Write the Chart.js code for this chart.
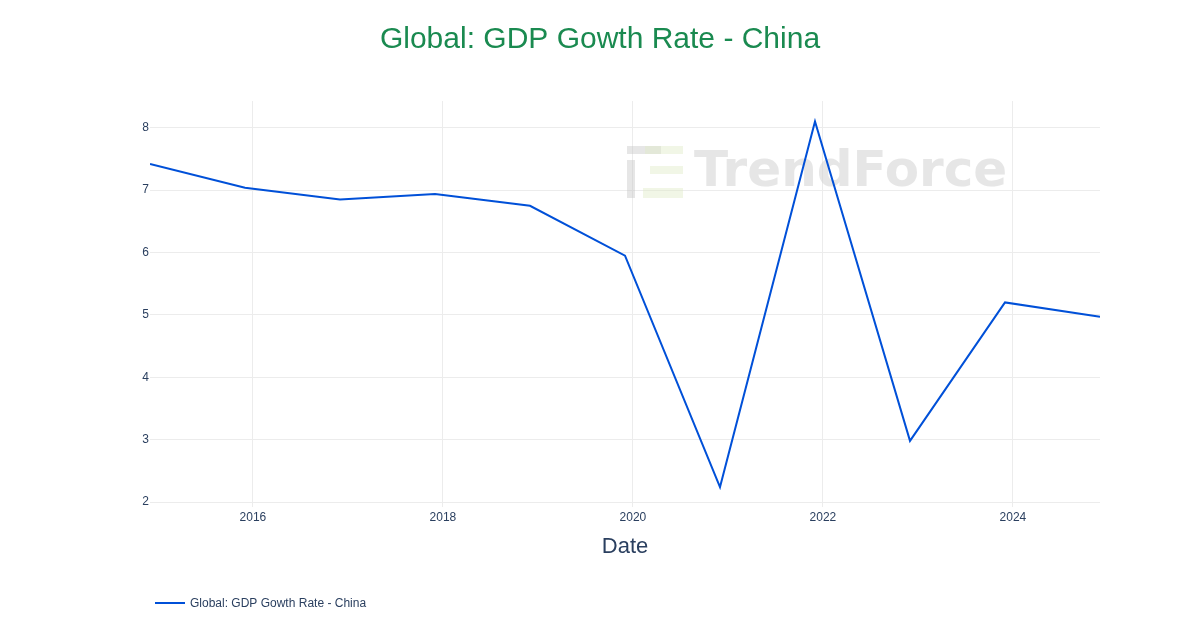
<!DOCTYPE html>
<html>
<head>
<meta charset="utf-8">
<script src="https://cdn.jsdelivr.net/npm/chart.js@4"></script>
<style>
  html, body { margin: 0; padding: 0; background: #fff; }
  #wrap { width: 1200px; height: 630px; }
</style>
</head>
<body>
<div id="wrap"><canvas id="chart" width="1200" height="630"></canvas></div>
<script>
const dates = ["2014-12-01", "2015-12-01", "2016-12-01", "2017-12-01", "2018-12-01", "2019-12-01",
  "2020-12-01", "2021-12-01", "2022-12-01", "2023-12-01", "2024-12-01"];
const growth = [7.42, 7.04, 6.85, 6.94, 6.75, 5.95, 2.24, 8.1, 2.98, 5.2, 4.97];
const xTicks = [2016, 2018, 2020, 2022, 2024];
const yTicks = [2, 3, 4, 5, 6, 7, 8];

const seriesName = "Global: GDP Gowth Rate - China";
const lineColor = "#0050d8";
const textColor = "#2a3f5f";
const fontFamily = "'Liberation Sans', Arial, sans-serif";

function toYear(d) {
  const [y, m, day] = d.split("-").map(Number);
  return y + (m - 1) / 12 + (day - 1) / 365;
}

const points = dates.map((d, i) => ({ x: toYear(d), y: growth[i] }));

// faint watermark behind the line
const watermark = {
  id: "watermark",
  beforeDatasetsDraw(chart) {
    const ctx = chart.ctx;
    ctx.save();
    ctx.fillStyle = "rgba(200,200,200,0.45)";
    ctx.fillRect(627, 146, 34, 8);
    ctx.fillRect(627, 160, 8, 38);
    ctx.fillStyle = "rgba(225,235,200,0.45)";
    ctx.fillRect(645, 146, 38, 8);
    ctx.fillRect(650, 166, 33, 8);
    ctx.fillRect(643, 188, 40, 10);
    ctx.font = "bold 50px 'DejaVu Sans', sans-serif";
    ctx.fillStyle = "rgba(205,205,205,0.5)";
    ctx.textBaseline = "middle";
    ctx.fillText("TrendForce", 694, 173);
    ctx.restore();
  }
};

// title centred on the page, legend at the bottom left
const pageText = {
  id: "pageText",
  afterDraw(chart) {
    const ctx = chart.ctx;
    ctx.save();
    ctx.fillStyle = "#1a8a50";
    ctx.font = "30px " + fontFamily;
    ctx.textAlign = "center";
    ctx.textBaseline = "middle";
    ctx.fillText(seriesName, 600, 40);

    ctx.strokeStyle = lineColor;
    ctx.lineWidth = 2;
    ctx.beginPath();
    ctx.moveTo(155, 603);
    ctx.lineTo(185, 603);
    ctx.stroke();
    ctx.fillStyle = textColor;
    ctx.font = "12px " + fontFamily;
    ctx.textAlign = "left";
    ctx.fillText(seriesName, 190, 604);
    ctx.restore();
  }
};

new Chart(document.getElementById("chart").getContext("2d"), {
  type: "line",
  data: {
    datasets: [{
      label: seriesName,
      data: points,
      borderColor: lineColor,
      backgroundColor: lineColor,
      borderWidth: 2,
      pointRadius: 0,
      tension: 0,
      fill: false
    }]
  },
  options: {
    responsive: false,
    animation: false,
    layout: { padding: { top: 101, left: 0, right: 100, bottom: 53 } },
    plugins: {
      legend: { display: false },
      tooltip: { enabled: false },
      title: { display: false }
    },
    scales: {
      x: {
        type: "linear",
        min: toYear(dates[0]),
        max: toYear(dates[dates.length - 1]),
        afterBuildTicks: (s) => { s.ticks = xTicks.map(v => ({ value: v })); },
        afterFit: (s) => { s.height = 70; },
        grid: { color: "#ececec", drawTicks: false },
        border: { display: false },
        ticks: {
          color: textColor,
          font: { size: 12, family: fontFamily },
          padding: 3,
          maxRotation: 0,
          callback: (v) => String(v)
        },
        title: {
          display: true,
          text: "Date",
          color: textColor,
          font: { size: 22, family: fontFamily },
          padding: { top: 0, bottom: 17 }
        }
      },
      y: {
        min: 1.92,
        max: 8.43,
        afterBuildTicks: (s) => { s.ticks = yTicks.map(v => ({ value: v })); },
        afterFit: (s) => { s.width = 150; },
        grid: { color: "#ececec", drawTicks: false },
        border: { display: false },
        ticks: {
          color: textColor,
          font: { size: 12, family: fontFamily },
          padding: 1
        }
      }
    }
  },
  plugins: [watermark, pageText]
});
</script>
</body>
</html>
